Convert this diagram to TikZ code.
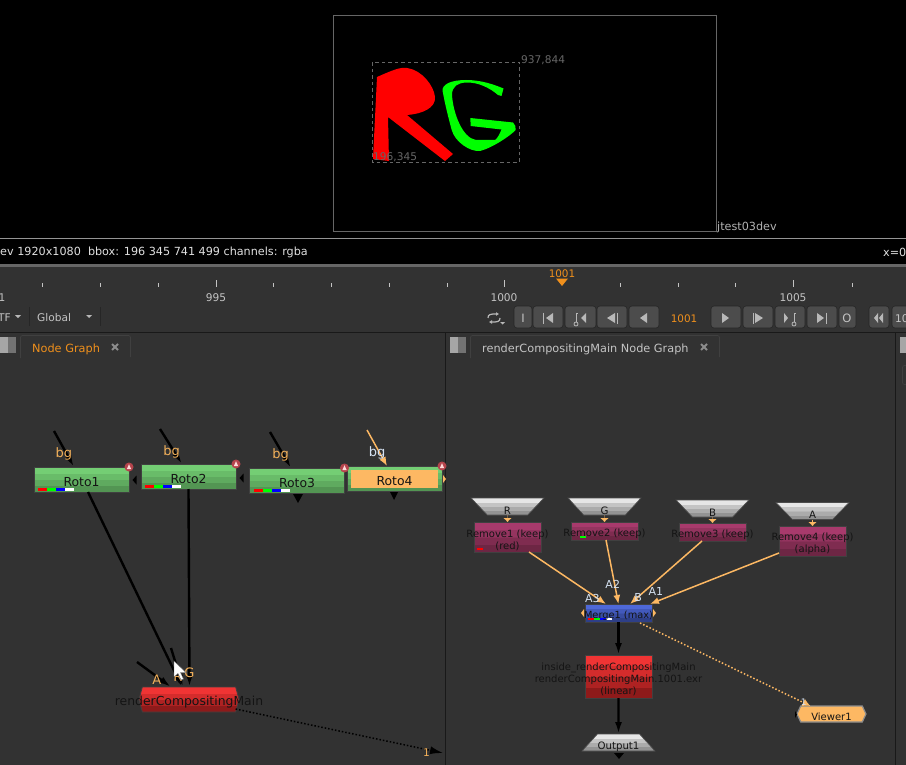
\documentclass[tikz,border=0pt]{standalone}
\usepackage{fontspec}
\setmainfont{DejaVu Sans}
\usetikzlibrary{positioning, arrows.meta, calc, shapes.geometric, shapes.symbols}
\definecolor{panelbg}{HTML}{323232}
\definecolor{selorange}{HTML}{FDB863}
\definecolor{knoblabel}{HTML}{F2B05A}
\definecolor{uitext}{HTML}{C4C4C4}
\definecolor{seltext}{HTML}{D5E2F2}
\definecolor{viewgray}{HTML}{666666}
\definecolor{nameorange}{HTML}{F0901C}
\definecolor{badgered}{HTML}{B5444C}
\definecolor{gra}{HTML}{74CE74}\definecolor{grb}{HTML}{69BC69}\definecolor{grc}{HTML}{5FAA5F}\definecolor{grd}{HTML}{539553}
\definecolor{rda}{HTML}{F03434}\definecolor{rdb}{HTML}{D42C2C}\definecolor{rdc}{HTML}{AE2222}\definecolor{rdd}{HTML}{8E1A1A}
\definecolor{maa}{HTML}{A83A6C}\definecolor{mab}{HTML}{94345F}\definecolor{mac}{HTML}{7F2C50}\definecolor{mad}{HTML}{6D2644}
\definecolor{bla}{HTML}{4E68D8}\definecolor{blb}{HTML}{4259BC}\definecolor{blc}{HTML}{384CA2}\definecolor{bld}{HTML}{2E3F88}
\definecolor{wha}{HTML}{E6E6E6}\definecolor{whb}{HTML}{C4C4C4}\definecolor{whc}{HTML}{ABABAB}\definecolor{whd}{HTML}{939393}
\newcommand{\bandshading}[5]{\pgfdeclareverticalshading{#1}{100bp}{color(0bp)=(#5); color(37.4bp)=(#5); color(37.6bp)=(#4); color(49.9bp)=(#4); color(50.1bp)=(#3); color(62.4bp)=(#3); color(62.6bp)=(#2); color(100bp)=(#2)}}
\bandshading{greenbands}{gra}{grb}{grc}{grd}
\bandshading{redbands}{rda}{rdb}{rdc}{rdd}
\bandshading{plumbands}{maa}{mab}{mac}{mad}
\bandshading{bluebands}{bla}{blb}{blc}{bld}
\bandshading{whitebands}{wha}{whb}{whc}{whd}
\tikzset{
	node text/.style={inner sep=0pt, outer sep=0pt, text=black!92, align=center},
	big face/.style={label={[node text, yshift=-2.5pt, font=\fontsize{12.4}{14}\selectfont]center:#1}},
	small face/.style={label={[node text, yshift=-3pt, font=\fontsize{10}{12}\selectfont]center:#1}},
	cap face/.style={label={[node text, yshift=-4pt, font=\fontsize{10.2}{12}\selectfont]center:#1}},
	graph node/.style={rectangle, draw=black!75, line width=0.8pt, inner sep=0pt, outer sep=0pt},
	roto node/.style={graph node, shade, shading=greenbands, minimum width=95pt, minimum height=25pt},
	remove node/.style={graph node, shade, shading=plumbands, minimum width=67pt},
	cap node/.style={trapezium, trapezium left angle=69, trapezium right angle=69, trapezium stretches=true, draw=black!70, line width=0.6pt, inner sep=0pt, outer sep=0pt, shade, shading=whitebands, minimum width=73pt, minimum height=17pt},
	read node/.style={graph node, shade, shading=redbands, minimum width=67pt, minimum height=43pt},
	wire/.style={line width=2.4pt, draw=black, -{Latex[length=12pt,width=7pt]}},
	sel wire/.style={line width=1.5pt, draw=selorange, -{Latex[length=9pt,width=7pt]}},
	port tip/.style={fill=black},
	knob/.style={text=knoblabel, font=\fontsize{13}{15}\selectfont, inner sep=0pt},
	sel knob/.style={text=seltext, font=\fontsize{11}{13}\selectfont, inner sep=0pt},
	badge/.style={circle, fill=badgered, inner sep=0pt, minimum size=9pt},
	ui/.style={text=uitext, font=\fontsize{10.6}{12}\selectfont, inner sep=0pt},
	tool button/.style={fill=black!70!white, draw=black!85, line width=0.6pt, rounded corners=3pt},
	icon/.style={fill=black!28},
}
\begin{document}
\begin{tikzpicture}[x=1pt, y=-1pt]
	\useasboundingbox (0,0) rectangle (906,765);
	\clip (0,0) rectangle (906,765);
	% Viewer
	\fill[black] (0,0) rectangle (906,264);
	\fill[panelbg] (0,267) rectangle (906,765);
	\fill[viewgray] (0,264) rectangle (906,267);
	\draw[viewgray!70, line width=0.7pt] (0,238.5) -- (906,238.5);
	\fill[red] (377,77) .. controls (393,70) and (400,67) .. (407,68) .. controls (422,70) and (434,86) .. (435,97) .. controls (436,108) and (422,114) .. (407,115) -- (453,154) -- (445,161) -- (388,117) -- (389,161) -- (373,159) -- cycle;
	\fill[green] (503.5,88.5) -- (501.5,96) -- (498,95) .. controls (490,88) and (478,82) .. (466,82.5) .. controls (458,83) and (452,86) .. (452,95) .. controls (453,112) and (462,138) .. (476,140) -- (495,140) .. controls (498,138) and (500,133) .. (501.5,129.5) -- (470.7,126) -- (470.3,118) -- (513,122.5) .. controls (515,124) and (516,127) .. (515.7,130) .. controls (510,136) and (492,148) .. (480,151) .. controls (470,152) and (455,142) .. (451.7,130) .. controls (449,120) and (447,112) .. (445,103) -- (442.7,91.7) .. controls (441,84) and (452,80) .. (466,80) .. controls (482,80) and (495,85) .. cycle;
	\draw[viewgray, line width=0.8pt] (333,15.5) rectangle (716.5,231);
	\draw[viewgray, line width=0.8pt, dash pattern=on 3.5pt off 3pt] (372,62.5) rectangle (519.5,162);
	\node[text=viewgray, anchor=west, inner sep=0pt, font=\fontsize{10.6}{12}\selectfont] (uppercorner) at (521,60) {937,844};
	\node[text=viewgray, anchor=west, inner sep=0pt, font=\fontsize{10.6}{12}\selectfont] (lowercorner) at (373,157) {196,345};
	\node[text=black!30, anchor=west, inner sep=0pt, font=\fontsize{11.2}{13}\selectfont] (formatname) at (717,227.5) {jtest03dev};
	\node[text=white!88!black, anchor=west, inner sep=0pt, font=\fontsize{11.2}{13}\selectfont] (status) at (0,252.5) {ev 1920x1080\ \ bbox: 196 345 741 499 channels: rgba};
	\node[text=white!88!black, anchor=west, inner sep=0pt, font=\fontsize{11.2}{13}\selectfont] (pixelpos) at (883,252.5) {x=0};
	% Timeline
	\foreach \x in {42,100,158,273,331,389,447,620,678,735,852}
		\draw[uitext, line width=0.8pt] (\x,283) -- (\x,287);
	\foreach \x in {216,504,793}
		\draw[uitext, line width=0.8pt] (\x,280) -- (\x,287);
	\node[ui] (tick1) at (2,297.5) {1};
	\node[ui] (tick995) at (216,297.5) {995};
	\node[ui] (tick1000) at (504,297.5) {1000};
	\node[ui] (tick1005) at (793,297.5) {1005};
	\node[text=nameorange, inner sep=0pt, font=\fontsize{10.4}{12}\selectfont] (cursorframe) at (562,274) {1001};
	\fill[nameorange] (556,278.5) -- (568,278.5) -- (562,286) -- cycle;
	% Toolbar
	\node[ui, anchor=east] (lutmenu) at (11,317.5) {TF};
	\node[ui, anchor=west] (scopemenu) at (37,317.5) {Global};
	\foreach \x in {18,89}
		\fill[icon] (\x-3,315) -- (\x+3,315) -- (\x,318) -- cycle;
	\foreach \x in {29,100}
		\draw[black!85, line width=0.8pt] (\x,307) -- (\x,326);
	\foreach \xa/\xb in {514/532,533/563,565/596,597/627,629/659,711/741,743/773,775/805,807/837,839/856,869/889,892/920}
		\draw[tool button] (\xa,306) rectangle (\xb,328);
	\foreach \xa/\xb in {553/546,586/581,615/607,647/640,722/729,755/763,784/788,817/824,878/874,883/879}
		\fill[icon] (\xa,313) -- (\xa,323) -- (\xb,318) -- cycle;
	\foreach \x in {543,617,753,826}
		\draw[black!28, line width=1pt] (\x,312.5) -- (\x,323.5);
	\foreach \x in {576,794} {
		\draw[black!28, line width=0.8pt] (\x,324) circle (2pt);
		\draw[black!28, line width=0.8pt] (\x,322) -- (\x,313) -- (\x+2,313);
	}
	\draw[black!28, line width=1.2pt, -{Latex[length=3pt,width=4pt]}] (488,318) .. controls (488,314) and (491,314) .. (499,314);
	\draw[black!28, line width=1.2pt, -{Latex[length=3pt,width=4pt]}] (500,318) .. controls (500,322) and (497,322) .. (489,322);
	\fill[icon] (500,322) -- (505,322) -- (502.5,324.5) -- cycle;
	\node[ui, font=\fontsize{11.5}{13}\selectfont] (inpoint) at (523,318.5) {I};
	\node[text=nameorange, inner sep=0pt, font=\fontsize{10.4}{12}\selectfont] (curframe) at (684,318.5) {1001};
	\node[ui, font=\fontsize{11.5}{13}\selectfont] (outpoint) at (847,318.5) {O};
	\node[ui, anchor=west] (nextbtn) at (895,318.5) {10};
	% Tabs
	\draw[black!90, line width=0.8pt] (0,332.5) -- (906,332.5);
	\foreach \x in {445.5,895.5}
		\draw[black!90, line width=1pt] (\x,333) -- (\x,765);
	\foreach \x in {0,450,900} {
		\fill[black!35] (\x,337) rectangle (\x+8,353);
		\fill[black!55] (\x+8,337) rectangle (\x+16,353);
	}
	\draw[black!75, line width=0.7pt, rounded corners=2pt] (20.5,358) -- (20.5,335.5) -- (130.5,335.5) -- (130.5,357);
	\draw[black!75, line width=0.7pt, rounded corners=2pt] (470.5,358) -- (470.5,335.5) -- (719.5,335.5) -- (719.5,357);
	\draw[black!75, line width=0.7pt, rounded corners=2pt] (906,365.5) -- (902.5,365.5) -- (902.5,384.5) -- (906,384.5);
	\node[text=nameorange, anchor=west, inner sep=0pt, font=\fontsize{11.3}{13}\selectfont] (graphtab) at (32,349) {Node Graph};
	\node[ui, anchor=west, font=\fontsize{11.3}{13}\selectfont] (subtab) at (482,349) {renderCompositingMain Node Graph};
	\foreach \x in {115,704} {
		\draw[black!45, line width=1.8pt] (\x-3,344) -- (\x+3,350);
		\draw[black!45, line width=1.8pt] (\x+3,344) -- (\x-3,350);
	}
	% Left graph
	\node[roto node, big face=Roto1] (Roto1) at (81.5,479.5) {};
	\node[roto node, big face=Roto2] (Roto2) at (188.5,476.5) {};
	\node[roto node, big face=Roto3] (Roto3) at (297,480.5) {};
	\node[roto node] (Roto4) at (394.5,478.5) {};
	\node[graph node, draw=none, fill=selorange, minimum width=87pt, minimum height=18pt, big face=Roto4] (Roto4face) at (Roto4) {};
	\foreach \nd in {Roto1,Roto2,Roto3} {
		\foreach \col [count=\i from 0] in {red,green,blue,white}
			\fill[\col] ($(\nd.south west)+(4+\i*9,-4)$) rectangle ++(9,3);
		\node[badge] (badge\nd) at (\nd.north east) {};
		\fill[white!85!red] ($(\nd.north east)+(-2.2,2.2)$) -- ++(4.4,0) -- ++(-2.2,-5) -- cycle;
	}
	\node[badge] (badgeRoto4) at (Roto4.north east) {};
	\fill[white!85!red] ($(Roto4.north east)+(-2.2,2.2)$) -- ++(4.4,0) -- ++(-2.2,-5) -- cycle;
	\fill[port tip] (129.5,480) ++(7,-4.5) -- ++(0,9) -- ++(-4,-4.5) -- cycle;
	\fill[port tip] (236.5,478) ++(7,-4.5) -- ++(0,9) -- ++(-4,-4.5) -- cycle;
	\fill[port tip] (293,494) -- ++(10,0) -- ++(-5,9) -- cycle;
	\fill[port tip] (390,492) -- ++(8,0) -- ++(-4,8) -- cycle;
	\fill[selorange] (443,475) -- ++(0,8) -- ++(3,-4) -- cycle;
	\node[graph node, signal, signal to=east and west, signal pointer angle=150, shade, shading=redbands, minimum width=100pt, minimum height=25pt, big face=renderCompositingMain] (renderCompositingMain) at (189,699.5) {};
	\coordinate (bgfree1) at (54,431);
	\coordinate (bgfree2) at (160,429);
	\coordinate (bgfree3) at (270,432);
	\coordinate (bgfree4) at (367,430);
	\coordinate (afree) at (137,662);
	\coordinate (rfree) at (171,648);
	\coordinate (viewerfree) at (443,753);
	% Paths
	\path
	(bgfree1) edge[wire] node[knob, pos=.64, xshift=-3pt] {bg} ([xshift=-7.5pt]Roto1.north)
	(bgfree2) edge[wire] node[knob, pos=.66, xshift=-3pt] {bg} ([xshift=-6.5pt]Roto2.north)
	(bgfree3) edge[wire] node[knob, pos=.65, xshift=-3pt] {bg} ([xshift=-6pt]Roto3.north)
	(bgfree4) edge[sel wire] node[sel knob, pos=.65, xshift=-3pt, font=\fontsize{13}{15}\selectfont] {bg} ([xshift=-7.5pt]Roto4.north)
	([xshift=6.5pt]Roto1.south) edge[wire] ([xshift=-7pt]renderCompositingMain.north)
	(Roto2.south) edge[wire] node[knob, pos=.93] {G} ([xshift=.5pt]renderCompositingMain.north)
	(rfree) edge[wire] node[knob, pos=.75, xshift=-2pt] {R} ([xshift=-6pt]renderCompositingMain.north)
	(afree) edge[wire] node[knob, pos=.55, xshift=1pt, yshift=-4pt] {A} ([xshift=-18pt]renderCompositingMain.north);
	\draw[black, line width=1.5pt, dotted, -{Latex[length=13pt,width=8pt]}] ([yshift=3pt]renderCompositingMain.south east) -- node[knob, pos=.92, yshift=-3pt, font=\fontsize{10.6}{12}\selectfont] {1} (viewerfree);
	\fill[white, draw=black!60, line width=0.4pt] (174,661) -- (174,677) -- (178,673.5) -- (181,680) -- (183.5,679) -- (180.5,672.5) -- (186,672.5) -- cycle;
	% Right graph
	\node[cap node, shape border rotate=180, cap face=R] (capR) at (507.5,506.5) {\phantom{R}};
	\node[cap node, shape border rotate=180, cap face=G] (capG) at (604.5,506.5) {\phantom{G}};
	\node[cap node, shape border rotate=180, cap face=B] (capB) at (712.5,508.5) {\phantom{B}};
	\node[cap node, shape border rotate=180, cap face=A] (capA) at (812.5,511) {\phantom{A}};
	\node[remove node, minimum height=30pt, small face={Remove1 (keep)\\(red)}] (Remove1) at (507.5,537) {};
	\node[remove node, minimum height=18pt, small face={Remove2 (keep)}] (Remove2) at (604.5,531) {};
	\node[remove node, minimum height=18pt, small face={Remove3 (keep)}] (Remove3) at (712.5,532) {};
	\node[remove node, minimum height=30pt, small face={Remove4 (keep)\\(alpha)}] (Remove4) at (812.5,541) {};
	\fill[red] ($(Remove1.south west)+(3,-4)$) rectangle ++(6,1.5);
	\fill[green] ($(Remove2.south west)+(9,-4)$) rectangle ++(6,1.5);
	\node[graph node, shade, shading=bluebands, minimum width=67pt, minimum height=18pt] (Merge1) at (618.5,613) {};
	\foreach \col [count=\i from 0] in {red,green,blue,white}
		\fill[\col] ($(Merge1.south west)+(3+\i*6,-4)$) rectangle ++(6,2);
	\node[inner sep=0pt, text=black!92, font=\fontsize{9.8}{12}\selectfont] (Merge1name) at (618.5,616) {Merge1 (max)};
	\fill[selorange] (Merge1.west) ++(-1,-4) -- ++(0,8) -- ++(-3,-4) -- cycle;
	\fill[selorange] (Merge1.east) ++(1,-4) -- ++(0,8) -- ++(3,-4) -- cycle;
	\node[read node, small face={inside\_renderCompositingMain\\renderCompositingMain.1001.exr\\(linear)}] (inside) at (618.5,676.5) {};
	\node[cap node, cap face=Output1] (Output1) at (618.5,742.5) {\phantom{O}};
	\fill[port tip] (614,753) -- ++(10,0) -- ++(-5,6) -- cycle;
	\node[graph node, signal, signal to=east and west, signal pointer angle=130, draw=black!45, line width=1.2pt, fill=selorange, minimum width=69pt, minimum height=16pt, small face=Viewer1] (Viewer1) at (831.5,714) {};
	\fill[port tip] (795,711) -- ++(0,7) -- ++(2,-3.5) -- cycle;
	\path
	(capR) edge[sel wire, line width=.1pt, {-{Latex[length=4pt,width=8pt]}}] (Remove1.north)
	(capG) edge[sel wire, line width=.1pt, {-{Latex[length=4pt,width=8pt]}}] (Remove2.north)
	(capB) edge[sel wire, line width=.1pt, {-{Latex[length=4pt,width=8pt]}}] (Remove3.north)
	(capA) edge[sel wire, line width=.1pt, {-{Latex[length=4pt,width=8pt]}}] (Remove4.north)
	([xshift=21.5pt]Remove1.south) edge[sel wire] node[sel knob, pos=.81, xshift=1pt, yshift=-4pt] {A3} ([xshift=-12.5pt]Merge1.north)
	([xshift=1.5pt]Remove2.south) edge[sel wire] node[sel knob, pos=.7, xshift=-2pt] {A2} (Merge1.north)
	([xshift=-10.5pt]Remove3.south) edge[sel wire] node[sel knob, pos=.86, xshift=-2pt, yshift=-2pt] {B} ([xshift=11.5pt]Merge1.north)
	([yshift=3pt]Remove4.south west) edge[sel wire] node[sel knob, pos=.9, xshift=-7pt, yshift=7pt] {A1} ([xshift=31.5pt]Merge1.north)
	(Merge1.south) edge[wire] (inside.north)
	(inside.south) edge[wire] (Output1.north);
	\draw[selorange, line width=1.5pt, dotted, -{Latex[length=8pt,width=8pt]}] (640,623) -- node[text=seltext, inner sep=0pt, pos=.96, font=\fontsize{9}{11}\selectfont] {1} ([xshift=-21pt]Viewer1.north);
\end{tikzpicture}
\end{document}
